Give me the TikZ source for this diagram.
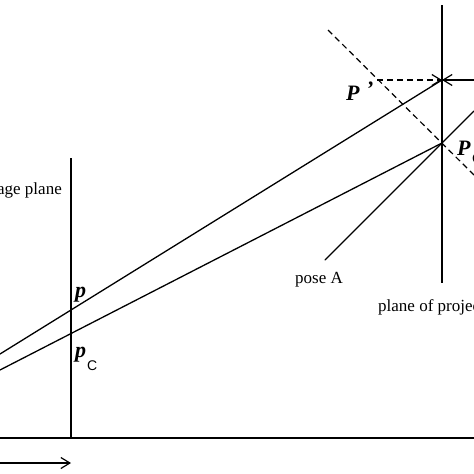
\documentclass[tikz,border=0pt]{standalone}
\usepackage{fontspec}
\setmainfont{Liberation Serif}
\setsansfont{Liberation Sans}
\usetikzlibrary{arrows.meta}
\begin{document}
\begin{tikzpicture}[x=1pt,y=-1pt,
  ln/.style={line width=1.3pt,line cap=round},
  thin ln/.style={line width=1.1pt},
  dsh/.style={line width=1.2pt,dash pattern=on 6pt off 4pt},
  barb/.style={-{Straight Barb[length=9pt,width=11pt,line width=1.2pt]}},
  lbl/.style={font=\fontsize{17}{17}\selectfont,inner sep=0pt},
  bigp/.style={font=\fontsize{22}{22}\selectfont\bfseries\itshape,inner sep=0pt}]
\useasboundingbox (0,0) rectangle (474,474);
% coordinates
\coordinate (Pp) at (442,80);
\coordinate (P) at (442,143);
\coordinate (ipTop) at (71,158);
\coordinate (ipBot) at (71,438);
\coordinate (ppTop) at (442,5);
\coordinate (ppBot) at (442,283);
\coordinate (baseL) at (0,438);
\coordinate (baseR) at (474,438);
\coordinate (arrL) at (0,463);
\coordinate (arrR) at (71,463);
\coordinate (upL) at (0,354);
\coordinate (loL) at (0,370);
\coordinate (poseEnd) at (325,260);
\coordinate (poseFar) at (474,111);
\coordinate (dTop) at (328,30);
\coordinate (dBot) at (474,175);
\coordinate (hStart) at (377,80);
\coordinate (rEdge) at (474,80);
% planes
\draw[thin ln] (ipTop) -- (ipBot);
\draw[thin ln] (ppTop) -- (ppBot);
\draw[ln] (baseL) -- (baseR);
\draw[ln,barb] (arrL) -- (arrR);
% rays
\draw[ln] (upL) -- (Pp);
\draw[ln] (loL) -- (P);
% pose A
\draw[ln] (poseEnd) -- (P) -- (poseFar);
% dashed
\draw[dsh] (dTop) -- (dBot);
\draw[dsh,barb] (hStart) -- (Pp);
\draw[ln,barb] (rEdge) -- (Pp);
% labels
\node[lbl,anchor=base east] (ipl) at (62,194) {image plane};
\node[lbl,anchor=base] (pa) at (319,283) {pose A};
\node[lbl,anchor=base west] (ppl) at (378,311) {plane of projection};
\node[bigp,anchor=base west] (Plab) at (346,100) {P};
\node[bigp,anchor=base west] (prime) at (366,96) {'};
\node[bigp,anchor=base west] (P2lab) at (457,155) {P};
\node[font=\fontsize{14}{14}\selectfont\sffamily,inner sep=0pt,anchor=base west] (P2sub) at (472,163) {C};
\node[bigp,anchor=base west] (plab) at (75,297) {p};
\node[bigp,anchor=base west] (pclab) at (75,357) {p};
\node[font=\fontsize{14}{14}\selectfont\sffamily,inner sep=0pt,anchor=base west] (pcsub) at (87,370) {C};
\end{tikzpicture}
\end{document}
